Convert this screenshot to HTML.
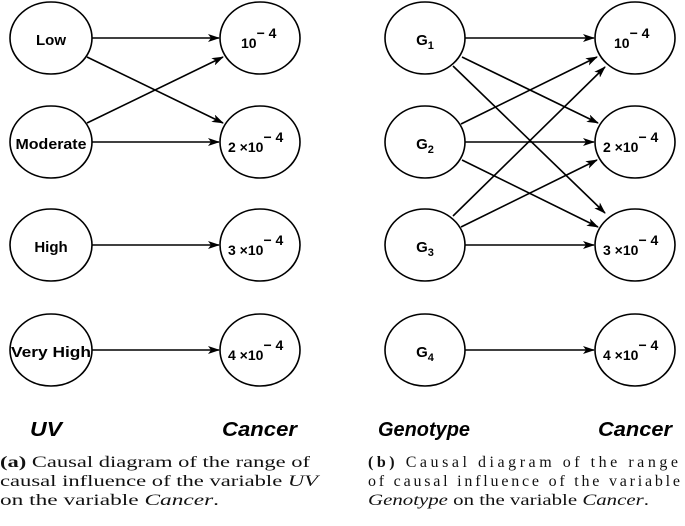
<!DOCTYPE html>
<html><head><style>
html,body{margin:0;padding:0;background:#fff;width:685px;height:526px;overflow:hidden}
svg text{font-family:"Liberation Sans",sans-serif;font-weight:bold}
svg text.c{font-family:"Liberation Serif",serif;font-weight:normal;font-size:16px;fill:#111}
</style></head><body>
<svg width="685" height="526" style="position:absolute;left:0;top:0">
<defs><marker id="a" markerWidth="12" markerHeight="8" refX="11" refY="4" orient="auto" markerUnits="userSpaceOnUse"><path d="M0,0 L12,4 L0,8 L3,4 z" fill="#000"/></marker></defs>
<g fill="none" stroke="#000" stroke-width="1.6">
<ellipse cx="51" cy="38" rx="41" ry="36"/><ellipse cx="51" cy="142" rx="41" ry="36"/><ellipse cx="51" cy="245" rx="41" ry="36"/><ellipse cx="51" cy="350" rx="41" ry="36"/>
<ellipse cx="260" cy="38" rx="40" ry="36"/><ellipse cx="260" cy="142" rx="40" ry="36"/><ellipse cx="260" cy="245" rx="40" ry="36"/><ellipse cx="260" cy="350" rx="40" ry="36"/>
<ellipse cx="425" cy="38" rx="40" ry="36"/><ellipse cx="425" cy="142" rx="40" ry="36"/><ellipse cx="425" cy="245" rx="40" ry="36"/><ellipse cx="425" cy="350" rx="40" ry="36"/>
<ellipse cx="635" cy="38" rx="40" ry="36"/><ellipse cx="635" cy="142" rx="40" ry="36"/><ellipse cx="635" cy="245" rx="40" ry="36"/><ellipse cx="635" cy="350" rx="40" ry="36"/>
</g>
<g stroke="#000" stroke-width="1.6" marker-end="url(#a)">
<line x1="92" y1="38" x2="219" y2="38"/><line x1="87" y1="57" x2="223" y2="123"/><line x1="87" y1="123" x2="223" y2="57"/><line x1="92" y1="142" x2="219" y2="142"/><line x1="92" y1="245" x2="219" y2="245"/><line x1="92" y1="350" x2="219" y2="350"/>
<line x1="465" y1="38" x2="594" y2="38"/><line x1="462" y1="57" x2="598" y2="123"/><line x1="453" y1="66" x2="605" y2="213"/>
<line x1="461" y1="124" x2="597" y2="57"/><line x1="465" y1="142" x2="594" y2="142"/><line x1="462" y1="160" x2="598" y2="227"/>
<line x1="453" y1="216" x2="605" y2="67"/><line x1="461" y1="227" x2="597" y2="160"/><line x1="465" y1="245" x2="594" y2="245"/><line x1="465" y1="350" x2="594" y2="350"/>
</g>
<g font-size="15" text-anchor="middle">
<text x="51" y="45">Low</text><text x="51" y="149" textLength="71" lengthAdjust="spacingAndGlyphs">Moderate</text><text x="51" y="252">High</text><text x="51" y="357" textLength="80" lengthAdjust="spacingAndGlyphs">Very High</text>
<text x="425" y="45">G<tspan font-size="11" dy="4">1</tspan></text><text x="425" y="149">G<tspan font-size="11" dy="4">2</tspan></text><text x="425" y="252">G<tspan font-size="11" dy="4">3</tspan></text><text x="425" y="357">G<tspan font-size="11" dy="4">4</tspan></text>
</g>
<g font-size="14">
<text x="241" y="48">10<tspan dy="-10">− 4</tspan></text>
<text x="228" y="152">2 ×10<tspan dy="-10">− 4</tspan></text>
<text x="228" y="255">3 ×10<tspan dy="-10">− 4</tspan></text>
<text x="228" y="360">4 ×10<tspan dy="-10">− 4</tspan></text>
<text x="614" y="48">10<tspan dy="-10">− 4</tspan></text>
<text x="603" y="152">2 ×10<tspan dy="-10">− 4</tspan></text>
<text x="603" y="255">3 ×10<tspan dy="-10">− 4</tspan></text>
<text x="603" y="360">4 ×10<tspan dy="-10">− 4</tspan></text>
</g>
<g font-size="20" font-style="italic">
<text x="30" y="436" textLength="32" lengthAdjust="spacingAndGlyphs">UV</text><text x="222" y="436" textLength="75" lengthAdjust="spacingAndGlyphs">Cancer</text><text x="378" y="436" textLength="92" lengthAdjust="spacingAndGlyphs">Genotype</text><text x="598" y="436" textLength="74" lengthAdjust="spacingAndGlyphs">Cancer</text>
</g>
<text class="c" x="0" y="467" textLength="310" lengthAdjust="spacingAndGlyphs"><tspan font-weight="bold">(a)</tspan> Causal diagram of the range of</text>
<text class="c" x="0" y="486" textLength="318" lengthAdjust="spacingAndGlyphs">causal influence of the variable <tspan font-style="italic">UV</tspan></text>
<text class="c" x="0" y="505" textLength="219" lengthAdjust="spacingAndGlyphs">on the variable <tspan font-style="italic">Cancer</tspan>.</text>
<text class="c" x="368" y="467" textLength="310" lengthAdjust="spacing"><tspan font-weight="bold">(b)</tspan> Causal diagram of the range</text>
<text class="c" x="368" y="486" textLength="312" lengthAdjust="spacing">of causal influence of the variable</text>
<text class="c" x="368" y="505" textLength="281" lengthAdjust="spacingAndGlyphs"><tspan font-style="italic">Genotype</tspan> on the variable <tspan font-style="italic">Cancer</tspan>.</text>
</svg>
</body></html>
